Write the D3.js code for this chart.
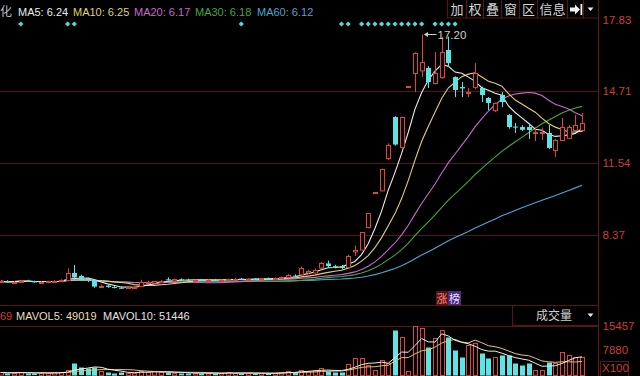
<!DOCTYPE html>
<html>
<head>
<meta charset="utf-8">
<script src="https://cdn.jsdelivr.net/npm/d3@7/dist/d3.min.js"></script>
<style>
body { margin: 0; background: #000; overflow: hidden; }
svg { display: block; font-family: "Liberation Sans", Arial, sans-serif; }
</style>
</head>
<body>
<div id="graph"></div>
<script>
//daily candles, oldest first (price in yuan)
var opens = [6.30,6.33,6.30,6.32,6.36,6.33,6.30,6.31,6.33,6.35,
	6.39,6.70,6.57,6.45,6.40,6.12,6.14,6.08,6.05,6.04,
	6.07,6.12,6.28,6.26,6.30,6.42,6.36,6.42,6.40,6.38,
	6.40,6.39,6.40,6.38,6.39,6.43,6.45,6.42,6.44,6.43,
	6.46,6.45,6.48,6.52,6.58,6.62,6.72,6.74,6.92,7.12,
	7.00,7.00,6.96,7.66,7.72,8.72,10.27,10.35,11.76,13.56,
	12.24,14.92,15.50,15.63,15.72,15.06,15.32,16.51,15.32,14.88,
	14.62,14.88,14.84,14.40,13.87,14.53,13.65,13.14,13.12,13.12,
	12.88,12.84,12.86,12.11,12.55,12.64,12.99,12.99];
var highs = [6.36,6.38,6.35,6.40,6.40,6.36,6.35,6.36,6.38,6.42,
	6.90,7.05,6.62,6.50,6.42,6.18,6.18,6.12,6.10,6.10,
	6.12,6.40,6.36,6.35,6.38,6.50,6.45,6.46,6.45,6.42,
	6.44,6.43,6.44,6.42,6.45,6.48,6.48,6.46,6.48,6.47,
	6.50,6.50,6.55,6.65,6.64,6.98,6.82,6.90,7.18,7.24,
	7.06,7.05,7.50,7.90,8.49,9.34,10.27,11.29,12.40,13.60,
	13.58,14.92,16.41,17.20,15.80,16.42,17.08,17.10,15.35,15.10,
	14.84,15.93,14.90,14.44,14.20,14.66,13.70,13.30,13.20,13.30,
	13.12,13.10,13.21,12.60,13.52,13.20,13.65,13.74];
var lows = [6.25,6.28,6.26,6.28,6.30,6.27,6.26,6.28,6.29,6.32,
	6.36,6.35,6.36,6.30,6.05,6.06,6.05,6.02,6.00,6.00,
	6.03,6.10,6.22,6.20,6.26,6.36,6.32,6.36,6.35,6.34,
	6.36,6.35,6.36,6.34,6.36,6.38,6.40,6.38,6.40,6.40,
	6.42,6.42,6.45,6.50,6.52,6.58,6.66,6.70,6.86,6.94,
	6.90,6.88,6.90,7.45,7.70,8.66,10.27,10.30,11.67,12.30,
	12.20,14.92,14.66,15.32,14.84,15.00,15.25,15.76,14.44,14.44,
	14.44,14.80,14.22,13.87,13.78,14.00,13.05,12.86,12.95,12.60,
	12.50,12.55,12.15,11.80,12.50,12.60,12.95,12.90];
var closes = [6.33,6.30,6.32,6.36,6.33,6.30,6.31,6.33,6.35,6.39,
	6.70,6.50,6.40,6.38,6.10,6.14,6.08,6.05,6.04,6.07,
	6.10,6.30,6.32,6.33,6.36,6.38,6.42,6.40,6.38,6.40,
	6.39,6.40,6.38,6.39,6.43,6.45,6.42,6.44,6.43,6.46,
	6.45,6.48,6.52,6.60,6.56,6.90,6.78,6.85,7.12,7.00,
	6.95,6.92,7.45,7.72,8.49,9.34,10.27,11.29,12.33,12.35,
	13.56,14.92,16.38,16.00,15.10,15.50,16.42,15.93,14.75,14.82,
	14.66,15.50,14.53,14.18,14.18,14.22,13.12,13.10,13.00,12.99,
	12.92,12.88,12.20,12.55,13.12,13.12,13.21,13.30];
//volume in hands (x100)
var volumes = [800,600,700,900,600,500,700,600,800,900,
	1600,3800,2400,2200,2600,1200,900,700,800,600,
	700,1400,1000,1200,900,800,700,600,600,500,
	600,500,600,500,900,700,500,600,500,600,
	500,600,800,1300,900,1600,1200,1500,2200,1300,
	1000,1000,3500,5400,5400,3200,1500,4700,3800,14200,
	12000,1200,15400,14800,8840,11700,14200,12000,7900,5700,
	9500,10100,6950,5400,5700,6300,6300,3800,3200,3800,
	1500,1500,4100,3800,7260,6300,5700,5700];

var priceTicks = [17.83, 14.71, 11.54, 8.37];
var volumeTicks = [15457, 7880];
var maPeriods = [5, 10, 20, 30, 60];
var maLabels = ["MA5: 6.24", "MA10: 6.25", "MA20: 6.17", "MA30: 6.18", "MA60: 6.12"];
var volLabels = ["69", "MAVOL5: 49019", "MAVOL10: 51446"];
var signalDays = [3, 10, 11, 36, 51, 52, 54, 55, 56, 57, 58, 59, 60, 61, 62, 63, 65, 66, 67, 68];
var toolButtons = ["加", "权", "叠", "窗", "区", "信息"];

(function(){
	"use strict";

	var width = 640, height = 376;
	var axisX = 598.5;
	var red = "#e0443c", cyan = "#5ee4e4", grid = "#5a1414";
	var maColors = ["#ececec", "#e2d26c", "#cc66d4", "#40aa40", "#4aa8d0"];

	var svg = d3.select("#graph").append("svg")
		.attr("width", width)
		.attr("height", height);
	svg.append("rect").attr("width", width).attr("height", height).attr("fill", "#000");

	//one step per trading day, last candle sits just left of the axis
	var x = d3.scaleLinear().domain([0, closes.length - 1]).range([0.8, 582]);
	var y = d3.scaleLinear().domain([8.37, 17.83]).range([235, 20]);
	var yv = d3.scaleLinear().domain([0, 15457]).range([375, 326]);
	var cx = function(i) { return Math.round(x(i)) + 0.5; };
	var py = function(v) { return Math.round(y(v)) + 0.5; };

	//moving average, uses what is there at the left edge
	function movingAvg(arr, n) {
		return arr.map(function(d, i) {
			return d3.mean(arr.slice(Math.max(0, i - n + 1), i + 1));
		});
	}

	//grid lines
	svg.selectAll(".grid")
		.data(priceTicks.slice(1))
		.enter().append("line")
		.attr("x1", 0).attr("x2", axisX)
		.attr("y1", function(d) { return py(d); })
		.attr("y2", function(d) { return py(d); })
		.attr("stroke", grid);
	svg.append("line").attr("x1", 0).attr("x2", axisX).attr("y1", 305.5).attr("y2", 305.5).attr("stroke", grid);
	svg.append("line").attr("x1", 0).attr("x2", axisX)
		.attr("y1", Math.round(yv(volumeTicks[0])) + 0.5).attr("y2", Math.round(yv(volumeTicks[0])) + 0.5)
		.attr("stroke", grid);
	svg.append("line").attr("x1", axisX).attr("x2", axisX).attr("y1", 0).attr("y2", height).attr("stroke", "#6a1818");

	//axes on the right
	var pAxis = svg.append("g")
		.attr("transform", "translate(" + (axisX + 1) + ",0)")
		.call(d3.axisRight(y).tickValues(priceTicks).tickFormat(d3.format(".2f")).tickSize(0).tickPadding(3));
	var vAxis = svg.append("g")
		.attr("transform", "translate(" + (axisX + 1) + ",0)")
		.call(d3.axisRight(yv).tickValues(volumeTicks).tickFormat(d3.format("d")).tickSize(0).tickPadding(3));
	[pAxis, vAxis].forEach(function(a) {
		a.select(".domain").remove();
		a.selectAll("text").attr("fill", "#cc3c3c").style("font-size", "11.5px").style("font-family", "Liberation Sans, Arial, sans-serif");
	});
	svg.append("rect").attr("x", 600.5).attr("y", 361.5).attr("width", 28).attr("height", 16)
		.attr("fill", "none").attr("stroke", "#5a1414");
	svg.append("text").attr("x", 602).attr("y", 372).attr("fill", "#cc3c3c").style("font-size", "11.5px").text("X100");

	//moving averages of price
	var line = d3.line()
		.x(function(d, i) { return x(i); })
		.y(function(d) { return y(d); });
	maPeriods.slice().reverse().forEach(function(n, k) {
		var idx = maPeriods.length - 1 - k;
		svg.append("path")
			.attr("d", line(movingAvg(closes, n)))
			.attr("fill", "none")
			.attr("stroke", maColors[idx])
			.attr("stroke-width", 1.1);
	});

	//candles
	var candle = svg.selectAll(".candle")
		.data(closes.map(function(c, i) { return i; }))
		.enter().append("g")
		.attr("class", "candle");
	candle.append("line")
		.attr("x1", cx).attr("x2", cx)
		.attr("y1", function(i) { return y(highs[i]); })
		.attr("y2", function(i) { return y(lows[i]); })
		.attr("stroke", function(i) { return closes[i] >= opens[i] ? red : cyan; });
	candle.append("rect")
		.attr("x", function(i) { return closes[i] >= opens[i] ? cx(i) - 2 : cx(i) - 2.5; })
		.attr("width", function(i) { return closes[i] >= opens[i] ? 4 : 5; })
		.attr("y", function(i) {
			var top = y(Math.max(opens[i], closes[i]));
			return closes[i] >= opens[i] ? Math.round(top) + 0.5 : top;
		})
		.attr("height", function(i) { return Math.max(1, Math.abs(y(opens[i]) - y(closes[i]))); })
		.attr("fill", function(i) { return closes[i] >= opens[i] ? "#000" : cyan; })
		.attr("stroke", function(i) { return closes[i] >= opens[i] ? red : "none"; });

	//volume bars
	svg.selectAll(".vol")
		.data(volumes.map(function(v, i) { return i; }))
		.enter().append("rect")
		.attr("class", "vol")
		.attr("x", function(i) { return closes[i] >= opens[i] ? cx(i) - 2 : cx(i) - 2.5; })
		.attr("width", function(i) { return closes[i] >= opens[i] ? 4 : 5; })
		.attr("y", function(i) { return Math.round(yv(volumes[i])) + 0.5; })
		.attr("height", function(i) { return Math.max(1, yv(0) - yv(volumes[i])); })
		.attr("fill", function(i) { return closes[i] >= opens[i] ? "#000" : cyan; })
		.attr("stroke", function(i) { return closes[i] >= opens[i] ? red : "none"; });

	var vline = d3.line()
		.x(function(d, i) { return x(i); })
		.y(function(d) { return yv(d); });
	svg.append("path").attr("d", vline(movingAvg(volumes, 10))).attr("fill", "none").attr("stroke", "#e8c860").attr("stroke-width", 1);
	svg.append("path").attr("d", vline(movingAvg(volumes, 5))).attr("fill", "none").attr("stroke", "#eeeeee").attr("stroke-width", 1);

	//signal diamonds along the top
	svg.selectAll(".sig")
		.data(signalDays)
		.enter().append("path")
		.attr("d", function(i) {
			var a = x(i), b = 24;
			return "M" + a + "," + (b - 2.6) + "L" + (a + 2.6) + "," + b + "L" + a + "," + (b + 2.6) + "L" + (a - 2.6) + "," + b + "Z";
		})
		.attr("fill", "#58d8d8");

	//header with MA values
	var hx = [18, 73, 134, 195, 257];
	svg.append("text").attr("x", 0).attr("y", 15.5).attr("fill", "#bcbcbc")
		.style("font-family", "Noto Sans CJK SC").style("font-size", "12px").text("化");
	maLabels.forEach(function(t, k) {
		svg.append("text").attr("x", hx[k]).attr("y", 15.5).attr("fill", maColors[k])
			.style("font-size", "11px").text(t);
	});

	//volume header
	var vx = [0, 16, 103];
	var vcol = ["#cc3c3c", "#e6dfb8", "#e0e0e0"];
	volLabels.forEach(function(t, k) {
		svg.append("text").attr("x", vx[k]).attr("y", 320).attr("fill", vcol[k])
			.style("font-size", "11px").text(t);
	});

	//toolbar buttons at the top right
	var edges = [447.5, 466.5, 483.5, 501.5, 519.5, 537.5, 567.5, 583.5, 598.5];
	var bar = svg.append("g");
	for (var k = 0; k < edges.length - 1; k++) {
		bar.append("rect").attr("x", edges[k]).attr("y", -1).attr("width", edges[k + 1] - edges[k]).attr("height", 19)
			.attr("fill", "#000").attr("stroke", "#5a1414");
	}
	toolButtons.forEach(function(t, k) {
		bar.append("text").attr("x", (edges[k] + edges[k + 1]) / 2).attr("y", 14)
			.attr("text-anchor", "middle").attr("fill", "#d4d4d4")
			.style("font-family", "Noto Sans CJK SC").style("font-size", "13px").text(t);
	});
	bar.append("path").attr("d", "M570,7.5h5v-3l5,5l-5,5v-3h-5z").attr("fill", "#f0f0f0");
	bar.append("rect").attr("x", 580.5).attr("y", 4).attr("width", 1.8).attr("height", 11).attr("fill", "#f0f0f0");
	bar.append("path").attr("d", "M587.5,7.5h6l-3,3.5z").attr("fill", "#f0f0f0");

	//label for the highest price
	var hi = d3.maxIndex(highs);
	svg.append("line").attr("x1", cx(hi) + 2).attr("x2", cx(hi) + 14).attr("y1", py(highs[hi])).attr("y2", py(highs[hi]))
		.attr("stroke", "#d0d0d0");
	svg.append("path").attr("d", "M" + (cx(hi) + 1.5) + "," + py(highs[hi]) + "l4,-2.5v5z").attr("fill", "#d0d0d0");
	svg.append("text").attr("x", cx(hi) + 15).attr("y", py(highs[hi]) + 4).attr("fill", "#d0d0d0")
		.style("font-size", "11.5px").text(d3.format(".2f")(highs[hi]));

	//board tag
	svg.append("rect").attr("x", 436).attr("y", 291).attr("width", 12).attr("height", 14).attr("fill", "#5c1010");
	svg.append("rect").attr("x", 448).attr("y", 291).attr("width", 13).attr("height", 14).attr("fill", "#4c2a84");
	svg.append("text").attr("x", 442).attr("y", 303).attr("text-anchor", "middle").attr("fill", "#ff8a8a")
		.style("font-family", "Noto Sans CJK SC").style("font-size", "11px").text("涨");
	svg.append("text").attr("x", 454.5).attr("y", 303).attr("text-anchor", "middle").attr("fill", "#e8dcff")
		.style("font-family", "Noto Sans CJK SC").style("font-size", "11px").text("榜");

	//indicator selector
	svg.append("rect").attr("x", 512.5).attr("y", 305.5).attr("width", 86).attr("height", 20)
		.attr("fill", "#000").attr("stroke", "#5a1414");
	svg.append("text").attr("x", 554).attr("y", 320).attr("text-anchor", "middle").attr("fill", "#cfcfcf")
		.style("font-family", "Noto Sans CJK SC").style("font-size", "12px").text("成交量");
	svg.append("path").attr("d", "M587.5,313.5h6l-3,3.5z").attr("fill", "#e8e8e8");
})();
</script>
</body>
</html>
